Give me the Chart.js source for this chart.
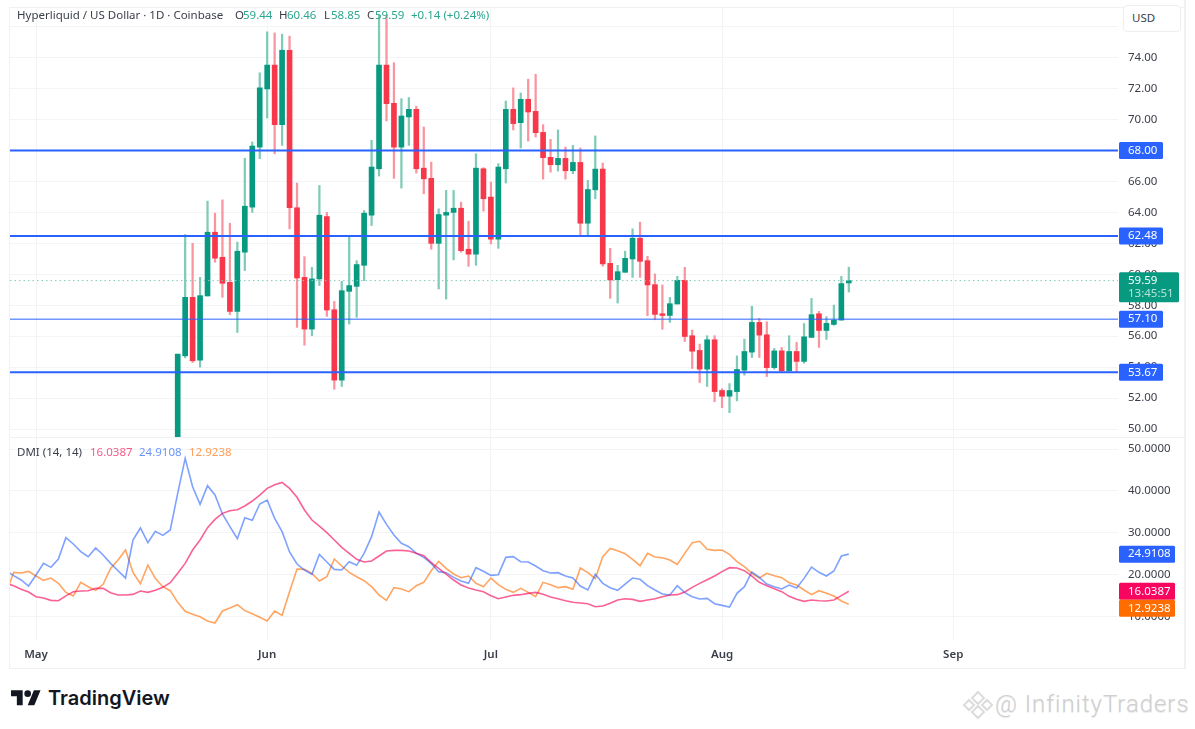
<!DOCTYPE html>
<html>
<head>
<meta charset="utf-8">
<title>Hyperliquid / US Dollar</title>
<script src="https://cdn.jsdelivr.net/npm/chart.js@4/dist/chart.umd.min.js"></script>
<style>
  html, body { margin: 0; padding: 0; background: #fff; }
  body { width: 1195px; height: 729px; position: relative; overflow: hidden; font-family: "Noto Sans", sans-serif; }
  canvas { position: absolute; left: 0; }
  .t { position: absolute; font-size: 11.5px; line-height: 14px; white-space: nowrap; color: #3a3e4a; }
  .up { color: #2ba58f; }
  .line { position: absolute; background: #f0f1f3; }
</style>
</head>
<body>
<canvas id="priceChart" width="1195" height="438" style="top:0"></canvas>
<canvas id="dmiChart" width="1195" height="230" style="top:438px"></canvas>

<div class="line" style="left:9px;top:7px;width:1176px;height:1px"></div>
<div class="line" style="left:9px;top:7px;width:1px;height:661px"></div>
<div class="line" style="left:1184px;top:0;width:2px;height:669px"></div>
<div class="line" style="left:9px;top:437px;width:1176px;height:1px"></div>
<div class="line" style="left:9px;top:668px;width:1177px;height:1px"></div>

<div style="position:absolute;left:1123px;top:5px;width:56px;height:25px;border:1px solid #eceef1;border-radius:4px;background:#fff"></div>
<div class="t" style="left:1132px;top:11px">USD</div>

<div class="t" style="left:17px;top:8px">Hyperliquid / US Dollar · 1D · Coinbase</div>
<div class="t" style="left:235px;top:8px">O</div><div class="t up" style="left:243px;top:8px">59.44</div>
<div class="t" style="left:279px;top:8px">H</div><div class="t up" style="left:287px;top:8px">60.46</div>
<div class="t" style="left:324px;top:8px">L</div><div class="t up" style="left:331px;top:8px">58.85</div>
<div class="t" style="left:367px;top:8px">C</div><div class="t up" style="left:375px;top:8px">59.59</div>
<div class="t up" style="left:411px;top:8px">+0.14 (+0.24%)</div>

<div class="t" style="left:17px;top:445px">DMI (14, 14)</div>
<div class="t" style="left:90px;top:445px;color:#f25c8a">16.0387</div>
<div class="t" style="left:139px;top:445px;color:#6c94fb">24.9108</div>
<div class="t" style="left:189px;top:445px;color:#ff9d55">12.9238</div>

<svg style="position:absolute;left:11px;top:687px" width="30" height="23.3" viewBox="0 0 36 28">
  <path d="M14 22H7V11H0V4h14v18zM28 22h-8l7.5-18h8L28 22z" fill="#131722"/><circle cx="20" cy="8" r="4" fill="#131722"/>
</svg>
<div style="position:absolute;left:48px;top:684px;font:600 20px/28px Inter,sans-serif;color:#131722">TradingView</div>

<svg style="position:absolute;left:963px;top:690px" width="30" height="30" viewBox="0 0 30 30" fill="none" stroke="#dcdcdc" stroke-width="2">
  <path d="M15 2l6 6-6 6-6-6zM6 10l5 5-5 5-5-5zM24 10l5 5-5 5-5-5zM15 16l6 6-6 6-6-6z"/>
</svg>
<div style="position:absolute;left:995px;top:688px;font:300 24px/32px Roboto,sans-serif;color:#cfcfcf;letter-spacing:.95px;text-shadow:0 1px 1px #e8e8e8">@ InfinityTraders</div>

<script>
// candles, one per day from May 20 (day 19, where May 1 is day 0)
const firstCandleDay = 19;
const opens = [48.5, 54.73, 58.51, 54.45, 58.6, 62.72, 61.1, 59.48, 57.6, 61.43, 64.34, 68.22, 71.98, 73.52, 69.67, 74.48, 64.3, 59.8, 56.46, 59.7, 63.73, 57.71, 53.16, 58.9, 59.22, 60.58, 63.82, 66.82, 73.52, 71.05, 68.22, 70.17, 70.66, 66.86, 66.2, 62.0, 63.82, 64.0, 64.27, 61.62, 61.3, 66.82, 64.99, 62.27, 66.82, 70.66, 69.8, 71.31, 70.53, 69.17, 67.56, 67.08, 67.49, 66.69, 67.23, 63.3, 65.46, 66.8, 60.71, 59.65, 60.13, 60.99, 62.33, 60.88, 59.33, 57.45, 57.34, 58.08, 59.61, 56.03, 55.08, 53.87, 55.77, 52.49, 52.12, 52.42, 53.8, 54.97, 56.89, 56.09, 53.97, 55.05, 53.76, 55.01, 54.37, 55.92, 57.45, 56.37, 56.76, 57.04, 59.44];
const highs = [54.84, 62.57, 62.0, 59.8, 64.73, 63.95, 64.81, 63.3, 62.08, 67.5, 68.55, 73.02, 75.67, 75.6, 75.52, 75.39, 65.9, 61.14, 60.45, 65.74, 64.0, 58.25, 59.55, 62.44, 60.88, 64.12, 68.66, 76.75, 76.75, 73.67, 71.35, 71.42, 70.86, 69.52, 67.25, 64.23, 65.42, 65.42, 64.66, 63.43, 67.79, 66.89, 65.96, 67.15, 71.2, 72.05, 71.72, 72.61, 72.93, 69.67, 68.72, 69.33, 68.22, 68.33, 68.16, 66.07, 68.94, 67.19, 61.68, 60.58, 61.49, 62.94, 63.37, 61.16, 60.02, 59.31, 58.51, 59.87, 60.45, 56.4, 55.49, 56.03, 56.03, 52.61, 52.94, 54.73, 55.81, 57.93, 57.15, 56.93, 55.21, 55.27, 56.03, 55.6, 56.82, 58.44, 57.6, 57.26, 58.01, 59.87, 60.46];
const lows = [48.3, 54.6, 54.3, 54.0, 58.6, 60.78, 58.51, 57.4, 56.24, 60.24, 64.0, 67.47, 70.1, 67.79, 68.33, 62.94, 56.57, 55.42, 56.03, 59.27, 57.28, 52.57, 52.75, 56.78, 57.22, 59.59, 63.15, 66.35, 69.91, 66.2, 65.57, 68.33, 66.54, 65.2, 61.62, 59.05, 58.4, 60.93, 61.43, 60.52, 60.58, 64.08, 61.96, 61.68, 65.9, 69.33, 68.16, 68.61, 68.87, 66.15, 66.6, 66.67, 66.15, 66.5, 62.48, 62.48, 64.88, 60.52, 58.45, 58.14, 60.13, 59.8, 59.8, 57.32, 57.06, 56.44, 56.89, 58.08, 55.66, 53.91, 53.0, 52.75, 51.77, 51.38, 51.06, 51.82, 53.48, 54.62, 54.62, 53.39, 53.87, 53.7, 53.76, 53.65, 54.25, 55.92, 55.27, 55.79, 56.7, 57.04, 58.85];
const closes = [54.84, 58.51, 54.41, 58.62, 62.72, 61.04, 59.42, 57.6, 61.49, 64.4, 68.29, 72.05, 73.52, 69.67, 74.48, 64.3, 59.76, 56.46, 59.7, 63.82, 57.69, 53.16, 58.94, 59.27, 60.63, 63.95, 66.93, 73.52, 71.03, 68.22, 70.23, 70.66, 66.82, 66.17, 62.0, 63.86, 64.0, 64.27, 61.53, 61.3, 66.86, 64.88, 62.27, 66.93, 70.66, 69.74, 71.31, 70.49, 69.15, 67.54, 67.08, 67.49, 66.69, 67.23, 63.3, 65.48, 66.8, 60.67, 59.63, 60.17, 61.03, 62.33, 60.84, 59.31, 57.41, 57.34, 58.1, 59.61, 55.98, 55.03, 53.87, 55.77, 52.42, 52.12, 52.49, 53.85, 55.01, 56.89, 56.07, 53.97, 55.05, 53.76, 55.01, 54.37, 55.96, 57.39, 56.37, 56.83, 57.04, 59.4, 59.59];

// DMI lines, one point per day from day -4
const firstDmiDay = -4;
const plusDI = [20.88, 19.77, 18.74, 17.3, 19.93, 22.71, 21.76, 23.75, 28.84, 27.33, 25.5, 24.3, 26.37, 24.7, 22.71, 20.96, 19.21, 28.28, 31.15, 27.65, 30.35, 29.4, 30.67, 39.42, 47.77, 41.01, 36.79, 41.25, 39.02, 34.49, 31.46, 28.6, 33.61, 32.98, 36.87, 37.83, 33.45, 30.27, 25.42, 22.55, 21.12, 20.09, 24.86, 23.03, 21.28, 21.12, 23.11, 22.24, 25.1, 29.08, 34.96, 32.02, 29.48, 27.49, 26.69, 25.1, 24.15, 22.71, 20.73, 20.49, 19.37, 18.5, 17.94, 21.68, 20.81, 19.85, 20.01, 24.15, 24.31, 23.11, 23.03, 22.08, 20.96, 20.41, 20.49, 19.69, 19.21, 17.3, 16.35, 20.09, 17.94, 16.91, 16.27, 17.78, 19.21, 18.9, 17.38, 16.35, 15.4, 15.16, 17.38, 15.71, 14.76, 14.2, 14.36, 13.09, 12.69, 12.29, 15.55, 17.15, 20.65, 19.37, 17.78, 17.15, 16.59, 17.54, 16.83, 19.13, 21.84, 20.57, 19.69, 20.88, 24.46, 24.91];
const adx = [17.94, 17.38, 16.51, 15.87, 14.76, 14.44, 13.88, 13.8, 14.96, 15.95, 16.11, 16.19, 16.75, 16.75, 15.71, 15.15, 15.15, 15.31, 16.11, 15.79, 16.27, 16.99, 18.1, 20.33, 22.71, 25.9, 28.28, 31.23, 33.21, 34.65, 35.28, 35.52, 36.4, 37.59, 39.02, 40.61, 41.49, 42.04, 40.61, 38.48, 35.44, 33.05, 31.62, 30.03, 28.28, 26.53, 25.1, 23.67, 23.03, 23.27, 24.46, 25.66, 25.82, 25.82, 25.66, 25.1, 24.54, 22.87, 21.52, 20.17, 18.74, 17.54, 16.83, 16.35, 15.95, 15.0, 14.28, 14.68, 15.08, 15.24, 15.55, 15.79, 15.32, 14.68, 14.28, 13.8, 13.41, 13.25, 13.09, 12.37, 12.53, 13.17, 13.96, 14.28, 14.12, 13.65, 13.96, 14.28, 14.76, 15.16, 15.24, 15.87, 16.99, 17.94, 18.82, 19.69, 20.73, 21.68, 21.6, 20.96, 19.69, 18.18, 17.38, 16.67, 15.95, 14.84, 14.12, 13.65, 13.96, 13.8, 13.73, 13.96, 15.0, 16.04];
const minusDI = [15.55, 20.57, 20.41, 20.8, 19.69, 18.66, 19.21, 17.94, 15.79, 14.92, 18.18, 17.14, 16.27, 17.7, 21.52, 23.51, 25.9, 20.57, 17.86, 22.32, 19.13, 17.14, 16.19, 13.41, 11.26, 10.54, 9.98, 8.95, 8.47, 11.34, 12.05, 12.85, 11.42, 10.7, 9.83, 8.95, 11.34, 10.3, 15.95, 21.36, 21.28, 20.33, 18.5, 19.53, 23.75, 22.08, 20.57, 19.53, 18.58, 17.14, 15.15, 13.88, 16.9, 16.59, 15.95, 17.38, 18.18, 20.96, 23.19, 21.52, 20.17, 19.29, 19.69, 17.94, 17.15, 19.21, 17.62, 16.51, 15.79, 16.75, 15.79, 14.76, 18.18, 17.62, 16.91, 17.15, 16.51, 21.6, 20.49, 19.06, 24.31, 26.29, 25.74, 25.02, 23.67, 22.16, 25.1, 24.23, 24.07, 23.51, 22.48, 25.1, 27.65, 27.97, 26.06, 25.82, 25.9, 24.86, 23.11, 21.92, 20.33, 19.21, 20.33, 19.77, 19.29, 18.1, 17.54, 16.35, 15.24, 16.19, 15.55, 14.92, 13.73, 12.92];

// axes
const monthDays = [0, 31, 61, 92, 123];
const monthNames = ['May', 'Jun', 'Jul', 'Aug', 'Sep'];
const priceTicks = [50, 52, 54, 56, 58, 60, 62, 64, 66, 68, 70, 72, 74, 76];
const dmiTicks = [10, 20, 30, 40, 50];
const xMin = -3.49, xMax = 145.1;

// horizontal levels and the last price
const levels = [68.00, 62.48, 57.10, 53.67];
const levelWidths = [2, 2, 1, 2];
const lastPrice = 59.59;
const lastCountdown = '13:45:51';

const GREEN = '#089981', RED = '#f7374a', BLUE = '#2962ff';
const GRID = '#f3f4f6', TEXT = '#3a3e4a';
const FONT = '"Noto Sans", sans-serif';

const candleColor = (i) => closes[i] >= opens[i] ? GREEN : RED;
const wickColor = (i) => closes[i] >= opens[i] ? '#7fcbb8' : '#f9959f';
const candleDays = opens.map((_, i) => firstCandleDay + i);

// the labels of the first and last tick must not shrink the plot area
const noPadding = (s) => {
  s.paddingTop = 0;
  s.paddingBottom = 0;
  s.paddingLeft = 0;
  s.paddingRight = 0;
};

const monthAxis = (showLabels) => ({
  type: 'linear',
  offset: false,
  min: xMin,
  max: xMax,
  afterBuildTicks: (s) => { s.ticks = monthDays.map((v) => ({ value: v })); },
  grid: { color: GRID, drawTicks: false, offset: false },
  border: { display: false },
  ticks: {
    display: showLabels,
    autoSkip: false,
    maxRotation: 0,
    padding: 8,
    color: TEXT,
    font: { family: FONT, size: 11.5, weight: '600' },
    callback: (v) => monthNames[monthDays.indexOf(v)]
  },
  afterFit: (s) => { s.height = showLabels ? 28 : 0; noPadding(s); }
});

const valueAxis = (min, max, tickValues, decimals) => ({
  position: 'right',
  min: min,
  max: max,
  afterBuildTicks: (s) => { s.ticks = tickValues.map((v) => ({ value: v })); },
  afterFit: (s) => { s.width = 66; noPadding(s); },
  grid: { color: GRID, drawTicks: false },
  border: { display: false },
  ticks: {
    padding: 10,
    color: TEXT,
    font: { family: FONT, size: 11.5 },
    callback: (v) => v.toFixed(decimals)
  }
});

// coloured price tags on the right axis, pushed down when they would overlap
const tagPlugin = (tags) => ({
  id: 'tags',
  afterDraw(chart) {
    const ctx = chart.ctx, y = chart.scales.y;
    let lastBottom = -1;
    ctx.save();
    tags.forEach((t) => {
      const h = t.sub ? 30 : 17;
      let top = y.getPixelForValue(t.value) - (t.sub ? 8.5 : h / 2);
      if (top < lastBottom) top = lastBottom;
      lastBottom = top + h;
      ctx.fillStyle = t.color;
      ctx.beginPath();
      ctx.roundRect(1119, top, t.width, h, 1.5);
      ctx.fill();
      ctx.textBaseline = 'middle';
      ctx.textAlign = 'left';
      ctx.font = '11.5px ' + FONT;
      ctx.fillStyle = '#fff';
      ctx.fillText(t.text, 1128, top + 8.5);
      if (t.sub) {
        ctx.fillStyle = '#b5e3d8';
        ctx.fillText(t.sub, 1128, top + 22);
      }
    });
    ctx.restore();
  }
});

const lineAcross = (value, color, width, dash) => ({
  type: 'line',
  data: [{ x: xMin, y: value }, { x: xMax, y: value }],
  borderColor: color,
  borderWidth: width,
  borderDash: dash || [],
  pointRadius: 0,
  order: 0
});

new Chart(document.getElementById('priceChart'), {
  type: 'bar',
  data: {
    datasets: [
      ...levels.map((v, i) => lineAcross(v, BLUE, levelWidths[i])),
      lineAcross(lastPrice, '#7fcbb8', 1, [1.5, 3]),
      {
        data: candleDays.map((d, i) => ({ x: d, y: [opens[i], closes[i]] })),
        backgroundColor: opens.map((_, i) => candleColor(i)),
        barThickness: 5,
        grouped: false,
        order: 1
      },
      {
        data: candleDays.map((d, i) => ({ x: d, y: [lows[i], highs[i]] })),
        backgroundColor: opens.map((_, i) => wickColor(i)),
        barThickness: 1.6,
        grouped: false,
        order: 2
      }
    ]
  },
  options: {
    responsive: false,
    animation: false,
    events: [],
    layout: { padding: { left: 10, right: 11, top: 8, bottom: 0 } },
    plugins: { legend: { display: false }, tooltip: { enabled: false } },
    scales: {
      x: monthAxis(false),
      y: valueAxis(49.42, 77.21, priceTicks, 2)
    }
  },
  plugins: [tagPlugin([
    ...levels.map((v) => ({ value: v, text: v.toFixed(2), color: BLUE, width: 44 })),
    { value: lastPrice, text: lastPrice.toFixed(2), sub: lastCountdown, color: GREEN, width: 60 }
  ].sort((a, b) => b.value - a.value))]
});

const dmiLine = (values, color) => ({
  data: values.map((v, i) => ({ x: firstDmiDay + i, y: v })),
  borderColor: color,
  borderWidth: 1.6,
  pointRadius: 0,
  tension: 0
});

new Chart(document.getElementById('dmiChart'), {
  type: 'line',
  data: {
    datasets: [
      dmiLine(adx, 'rgba(245,0,87,0.62)'),
      dmiLine(plusDI, 'rgba(41,98,255,0.6)'),
      dmiLine(minusDI, 'rgba(255,109,0,0.62)')
    ]
  },
  options: {
    responsive: false,
    animation: false,
    events: [],
    layout: { padding: { left: 10, right: 11, top: 0, bottom: 0 } },
    plugins: { legend: { display: false }, tooltip: { enabled: false } },
    scales: {
      x: monthAxis(true),
      y: valueAxis(4.42, 52.63, dmiTicks, 4)
    }
  },
  plugins: [tagPlugin([
    { value: plusDI[plusDI.length - 1], text: '24.9108', color: BLUE, width: 56 },
    { value: adx[adx.length - 1], text: '16.0387', color: '#f7055f', width: 56 },
    { value: minusDI[minusDI.length - 1], text: '12.9238', color: '#ff6d00', width: 56 }
  ])]
});
</script>
</body>
</html>
